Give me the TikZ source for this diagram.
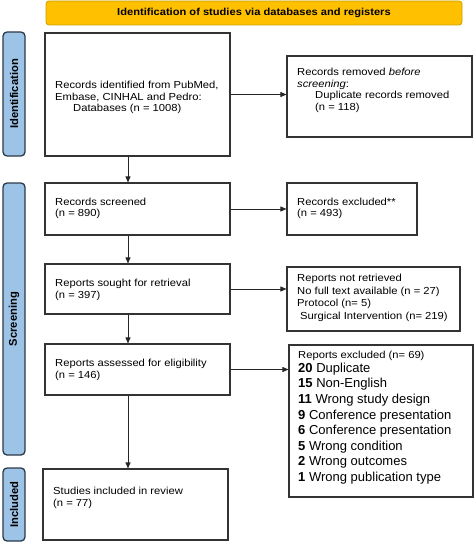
\documentclass[tikz,border=0pt]{standalone}
\usepackage{fontspec}
\setmainfont{Liberation Sans}[FakeStretch=1.1]
\newfontfamily\plainsans{Liberation Sans}
\usetikzlibrary{arrows.meta}
\definecolor{bannerfill}{HTML}{FFC000}
\definecolor{bannerdraw}{HTML}{C9A000}
\definecolor{sidefill}{HTML}{9DC3E6}
\definecolor{sidedraw}{HTML}{2B3A4A}
\definecolor{boxdraw}{HTML}{333333}
\begin{document}
\begin{tikzpicture}[x=1pt,y=-1pt,
  box/.style={draw=boxdraw,line width=1.1pt,fill=white,inner sep=0pt},
  banner/.style={draw=bannerdraw,line width=0.8pt,fill=bannerfill,rounded corners=3pt,inner sep=0pt,font=\bfseries\fontsize{10.1}{12}\selectfont},
  side/.style={draw=sidedraw,line width=1.3pt,fill=sidefill,rounded corners=4pt,inner sep=0pt},
  sidetxt/.style={rotate=90,font=\plainsans\bfseries\fontsize{11.2}{13}\selectfont,inner sep=0pt},
  txt/.style={font=\fontsize{10.2}{11.6}\selectfont,align=left,anchor=west,inner sep=0pt},
  listtxt/.style={font=\plainsans\fontsize{13}{15.57}\selectfont,align=left,anchor=west,inner sep=0pt},
  arr/.style={draw=black!85,line width=0.8pt,-{Triangle[length=6pt,width=5pt]}}]
\useasboundingbox (0,0) rectangle (474,543);
% banner
\node[banner,minimum width=416pt,minimum height=24pt] (ban) at (254,13) {Identification of studies via databases and registers};
% side boxes
\node[side,minimum width=22pt,minimum height=124pt] (s1) at (14,94) {};
\node[sidetxt] (s1t) at (s1.center) {Identification};
\node[side,minimum width=22pt,minimum height=272pt] (s2) at (14,319) {};
\node[sidetxt] (s2t) at (s2.center) {Screening};
\node[side,minimum width=22pt,minimum height=73pt] (s3) at (14,504.5) {};
\node[sidetxt] (s3t) at (s3.center) {Included};
% boxes
\node[box,minimum width=185pt,minimum height=123pt] (b1) at (137.5,94.5) {};
\node[box,minimum width=185pt,minimum height=81pt] (b2) at (379.5,96.5) {};
\node[box,minimum width=185pt,minimum height=52pt] (b3) at (137.5,209) {};
\node[box,minimum width=130pt,minimum height=52pt] (b4) at (352,209) {};
\node[box,minimum width=185pt,minimum height=50pt] (b5) at (137.5,289) {};
\node[box,minimum width=173pt,minimum height=64pt] (b6) at (373.5,299) {};
\node[box,minimum width=185pt,minimum height=51pt] (b7) at (137.5,369.5) {};
\node[box,minimum width=184pt,minimum height=152pt] (b8) at (381,421) {};
\node[box,minimum width=185pt,minimum height=71pt] (b9) at (135.5,504.5) {};
% texts
\node[txt] (t1) at (55,97.7) {Records identified from PubMed,\\Embase, CINHAL and Pedro:\\\hspace*{18pt}Databases (n = 1008)};
\node[txt] (t2) at (297,90.5) {Records removed \textit{before}\\\textit{screening}:\\\hspace*{18pt}Duplicate records removed\\\hspace*{18pt}(n = 118)};
\node[txt] (t3) at (55,208.5) {Records screened\\(n = 890)};
\node[txt] (t4) at (297,208.5) {Records excluded**\\(n = 493)};
\node[txt] (t5) at (55,290) {Reports sought for retrieval\\(n = 397)};
\node[txt,font=\fontsize{10.2}{12.7}\selectfont] (t6) at (297,298) {Reports not retrieved\\No full text available (n = 27)\\Protocol (n= 5)\\\hspace*{3pt}Surgical Intervention (n= 219)};
\node[txt] (t7) at (55,370) {Reports assessed for eligibility\\(n = 146)};
\node[txt] (t8) at (298,356) {Reports excluded (n= 69)};
\node[listtxt] (t8l) at (298,423.5) {\textbf{20} Duplicate\\\textbf{15} Non-English\\\textbf{11} Wrong study design\\\textbf{9} Conference presentation\\\textbf{6} Conference presentation\\\textbf{5} Wrong condition\\\textbf{2} Wrong outcomes\\\textbf{1} Wrong publication type};
\node[txt] (t9) at (53,498) {Studies included in review\\(n = 77)};
% arrows
\coordinate (ax) at (128,0);
\draw[arr] (b1.east) -- (b1.east -| b2.west);
\draw[arr] (b3.east) -- (b3.east -| b4.west);
\draw[arr] (b5.east) -- (b5.east -| b6.west);
\draw[arr] (b7.east) -- (b7.east -| b8.west);
\draw[arr] (b1.south -| ax) -- (b3.north -| ax);
\draw[arr] (b3.south -| ax) -- (b5.north -| ax);
\draw[arr] (b5.south -| ax) -- (b7.north -| ax);
\draw[arr] (b7.south -| ax) -- (b9.north -| ax);
\end{tikzpicture}
\end{document}
